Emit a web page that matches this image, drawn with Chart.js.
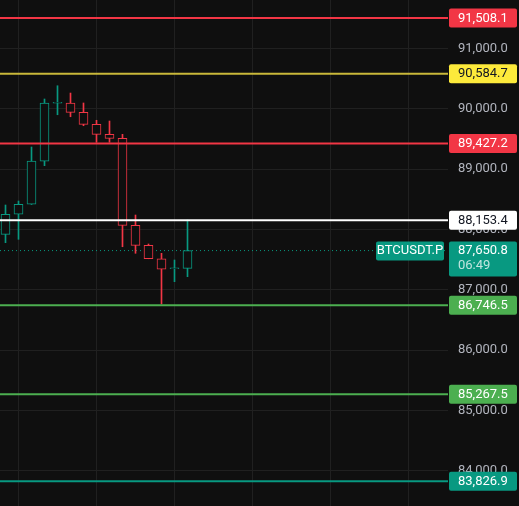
<!DOCTYPE html>
<html>
<head>
<meta charset="utf-8">
<script src="https://cdn.jsdelivr.net/npm/chart.js@4"></script>
<style>
  html, body { margin: 0; padding: 0; background: #0f0f0f; }
  canvas { display: block; }
</style>
</head>
<body>
<canvas id="myChart" width="519" height="506"></canvas>
<script>
// candles, left to right (candle index)
const opens  = [87921, 88253, 88419, 89132, 90095, 90099, 89944, 89745, 89579, 89513, 88070, 87738, 87516, 87350, 87357];
const highs  = [88407, 88473, 89369, 90165, 90385, 90264, 90099, 89812, 89800, 89579, 88241, 87760, 87606, 87495, 88158];
const lows   = [87782, 87838, 88415, 89059, 89904, 89871, 89722, 89447, 89447, 87715, 87606, 87516, 86765, 87135, 87218];
const closes = [88253, 88419, 89137, 90099, 90110, 89944, 89745, 89579, 89513, 88070, 87738, 87516, 87341, 87365, 87650.8];

// horizontal levels drawn on the chart
const levels = [91508.1, 90584.7, 89427.2, 88153.4, 86746.5, 85267.5, 83826.9];
const yTicks = [84000, 85000, 86000, 87000, 88000, 89000, 90000, 91000];
const xGridAt = [4, 10, 16, 22, 28, 34];

const lastPrice = 87650.8;
const symbol = 'BTCUSDT.P';
const countdown = '06:49';

// styles
const upColor = '#089981';
const downColor = '#f23645';
const bg = '#0f0f0f';
const levelLineColors = ['#f23645', '#c9b83a', '#f23645', '#ffffff', '#4caf50', '#4caf50', '#089981'];
const levelBoxColors  = ['#f23645', '#fdea3b', '#f23645', '#ffffff', '#4caf50', '#4caf50', '#089981'];
const levelTextColors = ['#ffffff', '#131722', '#ffffff', '#131722', '#ffffff', '#ffffff', '#ffffff'];
const FONT = '13px Roboto, "Noto Sans", sans-serif';

const X_MIN = -0.423, X_MAX = 34.04;

const fmt = v => v.toLocaleString('en-US', { minimumFractionDigits: 1, maximumFractionDigits: 1 });

const candleColors = opens.map((o, i) => closes[i] >= o ? upColor : downColor);

const datasets = [];
levels.forEach((v, i) => {
    datasets.push({
        type: 'line',
        data: [{ x: X_MIN, y: v }, { x: X_MAX, y: v }],
        borderColor: levelLineColors[i],
        borderWidth: 2,
        pointRadius: 0,
        order: 0
    });
});
datasets.push({
    type: 'bar',
    data: opens.map((o, i) => ({ x: i, y: [o, closes[i]] })),
    backgroundColor: bg,
    borderColor: candleColors,
    borderWidth: 1,
    borderSkipped: false,
    barThickness: 9,
    grouped: false,
    order: 1
});
datasets.push({
    type: 'bar',
    data: lows.map((l, i) => ({ x: i, y: [l, highs[i]] })),
    backgroundColor: candleColors,
    borderWidth: 0,
    barThickness: 1,
    grouped: false,
    order: 2
});
datasets.push({
    type: 'line',
    data: [{ x: X_MIN, y: lastPrice }, { x: X_MAX, y: lastPrice }],
    borderColor: upColor,
    borderWidth: 1,
    borderDash: [1, 3],
    pointRadius: 0,
    order: 3
});

function box(ctx, x, y, w, h, color) {
    ctx.fillStyle = color;
    ctx.beginPath();
    ctx.roundRect(x, y, w, h, 2);
    ctx.fill();
}

const labelsPlugin = {
    id: 'priceLabels',
    afterDraw(chart) {
        const ctx = chart.ctx;
        const ys = chart.scales.y;
        const x0 = chart.chartArea.right + 1;
        ctx.save();
        ctx.font = FONT;
        ctx.textBaseline = 'middle';
        ctx.textAlign = 'left';
        levels.forEach((v, i) => {
            const yy = ys.getPixelForValue(v);
            box(ctx, x0, yy - 9.5, 68, 19, levelBoxColors[i]);
            ctx.fillStyle = levelTextColors[i];
            ctx.fillText(fmt(v), x0 + 9, yy + 0.5);
        });
        // last price
        const yp = ys.getPixelForValue(lastPrice);
        box(ctx, x0, yp - 9, 68, 35, upColor);
        ctx.fillStyle = '#ffffff';
        ctx.fillText(fmt(lastPrice), x0 + 9, yp + 0.5);
        ctx.fillStyle = 'rgba(255,255,255,0.75)';
        ctx.fillText(countdown, x0 + 9, yp + 15);
        box(ctx, x0 - 73, yp - 9, 68, 19, upColor);
        ctx.fillStyle = '#ffffff';
        ctx.textAlign = 'center';
        ctx.fillText(symbol, x0 - 39, yp + 0.5);
        ctx.restore();
    }
};

const ctx = document.getElementById('myChart').getContext('2d');
const myChart = new Chart(ctx, {
    type: 'bar',
    data: { datasets: datasets },
    plugins: [labelsPlugin],
    options: {
        responsive: false,
        animation: false,
        devicePixelRatio: 1,
        layout: { padding: 0, autoPadding: false },
        plugins: {
            legend: { display: false },
            tooltip: { enabled: false }
        },
        scales: {
            x: {
                type: 'linear',
                min: X_MIN,
                max: X_MAX,
                offset: false,
                grid: { color: '#202020', drawTicks: false },
                border: { display: false },
                ticks: { display: false },
                afterBuildTicks: s => { s.ticks = xGridAt.map(v => ({ value: v })); }
            },
            y: {
                position: 'right',
                min: 83415,
                max: 91807,
                grid: { color: '#202020', drawTicks: false },
                border: { display: false },
                ticks: {
                    color: '#b2b5be',
                    font: { family: 'Roboto, "Noto Sans", sans-serif', size: 13 },
                    padding: 10,
                    callback: v => fmt(v)
                },
                afterBuildTicks: s => { s.ticks = yTicks.map(v => ({ value: v })); },
                afterFit: s => { s.width = 71; s.paddingTop = 0; s.paddingBottom = 0; }
            }
        }
    }
});
</script>
</body>
</html>
